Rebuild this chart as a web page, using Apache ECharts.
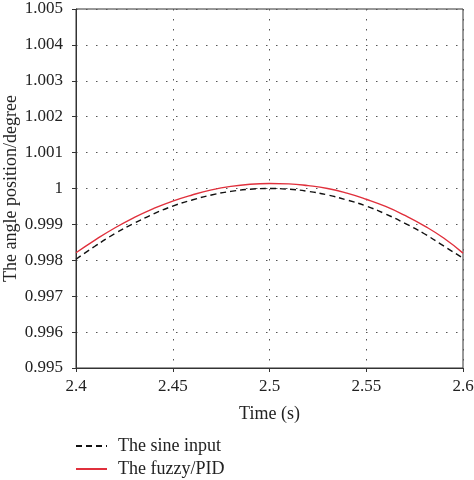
<!DOCTYPE html>
<html>
<head>
  <meta charset="utf-8">
  <title>angle position</title>
  <style>
    html, body { margin: 0; padding: 0; background: #fff; }
    #chart { width: 474px; height: 480px; }
  </style>
</head>
<body>
  <div id="chart"></div>
  <script src="https://cdn.jsdelivr.net/npm/echarts@6/dist/echarts.min.js"></script>
  <script type="text/javascript">
    // time samples (s)
    var times = [2.40, 2.41, 2.42, 2.43, 2.44, 2.45, 2.46, 2.47, 2.48, 2.49, 2.50,
                 2.51, 2.52, 2.53, 2.54, 2.55, 2.56, 2.57, 2.58, 2.59, 2.60];
    // the sine input (dashed black)
    var sineInput = [0.99803, 0.99840, 0.99874, 0.99903, 0.99929, 0.99951, 0.99968, 0.99982, 0.99992, 0.99998, 1.00000,
                     0.99998, 0.99992, 0.99982, 0.99968, 0.99951, 0.99929, 0.99903, 0.99874, 0.99840, 0.99806];
    // the fuzzy/PID response (red)
    var fuzzyPid = [0.99821, 0.99857, 0.99890, 0.99919, 0.99944, 0.99965, 0.99982, 0.99996, 1.00006, 1.00012, 1.00014,
                    1.00013, 1.00008, 1.00000, 0.99987, 0.99970, 0.99950, 0.99925, 0.99896, 0.99862, 0.99820];
    var seriesNames = ['The sine input', 'The fuzzy/PID'];

    function pairs(xs, ys) {
      return xs.map(function (x, i) { return [x, ys[i]]; });
    }

    var font = 'Liberation Serif';
    var ink = '#222';
    var grid = { type: [1.5, 8.5], color: '#555', width: 1 };

    var chart = echarts.init(document.getElementById('chart'));
    chart.setOption({
      animation: false,
      textStyle: { fontFamily: font },
      grid: {
        left: 76, right: 11, top: 9, bottom: 112,
        containLabel: false, outerBoundsMode: 'none',
        show: true, borderColor: '#333', borderWidth: 1
      },
      legend: {
        orient: 'vertical',
        left: 75,
        top: 437,
        padding: 0,
        itemWidth: 31,
        itemHeight: 10,
        itemGap: 5,
        itemStyle: { opacity: 0 },
        textStyle: { fontFamily: font, fontSize: 18, color: ink, padding: [0, 0, 0, 6] },
        data: seriesNames
      },
      xAxis: {
        type: 'value',
        min: 2.4,
        max: 2.6,
        interval: 0.05,
        name: 'Time (s)',
        nameLocation: 'middle',
        nameGap: 37,
        nameMoveOverlap: false,
        nameTextStyle: { fontFamily: font, fontSize: 18, color: ink },
        axisLine: { lineStyle: { color: '#333' } },
        axisTick: { length: 4, lineStyle: { color: '#333' } },
        axisLabel: {
          fontFamily: font, fontSize: 17, color: ink, margin: 10,
          formatter: function (v) { return String(Number(v.toFixed(2))); }
        },
        splitLine: { lineStyle: grid }
      },
      yAxis: {
        type: 'value',
        min: 0.995,
        max: 1.005,
        interval: 0.001,
        name: 'The angle position/degree',
        nameLocation: 'middle',
        nameGap: 56,
        nameMoveOverlap: false,
        nameTextStyle: { fontFamily: font, fontSize: 18, color: ink },
        axisLine: { show: true, lineStyle: { color: '#333' } },
        axisTick: { show: true, length: 4, lineStyle: { color: '#333' } },
        axisLabel: {
          fontFamily: font, fontSize: 17, color: ink, margin: 13,
          formatter: function (v) { return String(Number(v.toFixed(3))); }
        },
        splitLine: { lineStyle: grid }
      },
      series: [
        {
          name: seriesNames[0],
          type: 'line',
          smooth: true,
          symbol: 'none',
          z: 3,
          lineStyle: { color: '#111', width: 1.4, type: [6, 4] },
          itemStyle: { color: '#111' },
          data: pairs(times, sineInput)
        },
        {
          name: seriesNames[1],
          type: 'line',
          smooth: true,
          symbol: 'none',
          z: 2,
          lineStyle: { color: '#e0303c', width: 1.4 },
          itemStyle: { color: '#e0303c' },
          data: pairs(times, fuzzyPid)
        }
      ]
    });
  </script>
</body>
</html>
